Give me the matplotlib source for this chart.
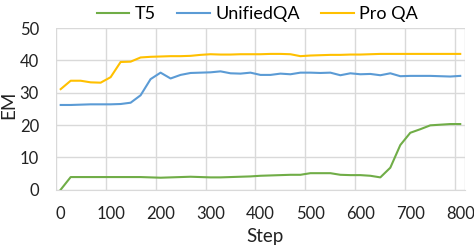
import matplotlib
matplotlib.use("Agg")
import matplotlib.pyplot as plt
from matplotlib.ticker import MultipleLocator, FixedLocator

plt.rcParams['font.family'] = ['Lato', 'DejaVu Sans']

# training steps (one point every 20 steps)
steps = list(range(0, 801, 20))

t5 = [0.0, 3.9, 3.9, 3.9, 3.9, 3.9, 3.9, 3.9, 3.9, 3.8, 3.7,
      3.8, 3.9, 4.0, 3.9, 3.8, 3.8, 3.9, 4.0, 4.1, 4.3,
      4.4, 4.5, 4.6, 4.6, 5.1, 5.1, 5.1, 4.6, 4.5, 4.5,
      4.3, 3.8, 6.8, 13.8, 17.6, 18.7, 19.9, 20.1, 20.3, 20.3]

unifiedqa = [26.2, 26.2, 26.3, 26.4, 26.4, 26.4, 26.5, 26.9, 29.2, 34.2, 36.2,
             34.4, 35.5, 36.1, 36.2, 36.3, 36.6, 36.0, 35.9, 36.2, 35.5,
             35.5, 35.9, 35.7, 36.2, 36.2, 36.1, 36.2, 35.4, 36.0, 35.7,
             35.8, 35.4, 36.0, 35.1, 35.2, 35.2, 35.2, 35.1, 35.0, 35.2]

proqa = [31.1, 33.7, 33.7, 33.2, 33.1, 34.8, 39.5, 39.6, 40.9, 41.1, 41.2,
         41.3, 41.3, 41.4, 41.7, 41.9, 41.8, 41.8, 41.9, 41.9, 41.9,
         42.0, 42.0, 41.9, 41.3, 41.5, 41.6, 41.7, 41.7, 41.8, 41.8,
         41.9, 42.0, 42.0, 42.0, 42.0, 42.0, 42.0, 42.0, 42.0, 42.0]

x_ticks = [0, 100, 200, 300, 400, 500, 600, 700, 800]

fig = plt.figure(figsize=(4.74, 2.46), dpi=100)
ax = fig.add_axes([0.1175, 0.229, 0.864, 0.657])

ax.plot(steps, t5, color='#70AD47', lw=1.5, label='T5')
ax.plot(steps, unifiedqa, color='#5B9BD5', lw=1.5, label='UnifiedQA')
ax.plot(steps, proqa, color='#FFC000', lw=1.5, label='Pro QA')

ax.set_xlim(-10, 810)
ax.set_ylim(0, 50)
ax.set_xticks(x_ticks)
ax.xaxis.set_minor_locator(FixedLocator([t - 10 for t in x_ticks] + [810]))
ax.yaxis.set_major_locator(MultipleLocator(10))
ax.grid(which='minor', axis='x', color='#D9D9D9', lw=1.0)
ax.grid(which='major', axis='y', color='#D9D9D9', lw=1.0)
ax.set_axisbelow(True)
for s in ['top', 'right', 'left']:
    ax.spines[s].set_visible(False)
ax.spines['bottom'].set_color('#D9D9D9')
ax.tick_params(which='both', length=0, labelsize=12, colors='#222222')
ax.tick_params(axis='x', pad=12)
ax.tick_params(axis='y', pad=12)

fig.text(0.019, 0.573, 'EM', rotation=90, ha='center', va='center', fontsize=13.5, color='#222222')
fig.text(0.558, 0.038, 'Step', ha='center', va='center', fontsize=13.5, color='#222222')

fig.legend(loc='upper center', bbox_to_anchor=(0.543, 1.04), ncol=3, frameon=False,
           fontsize=13, handlelength=1.8, columnspacing=1.2, handletextpad=0.3)

fig.savefig('out.png', dpi=100)
